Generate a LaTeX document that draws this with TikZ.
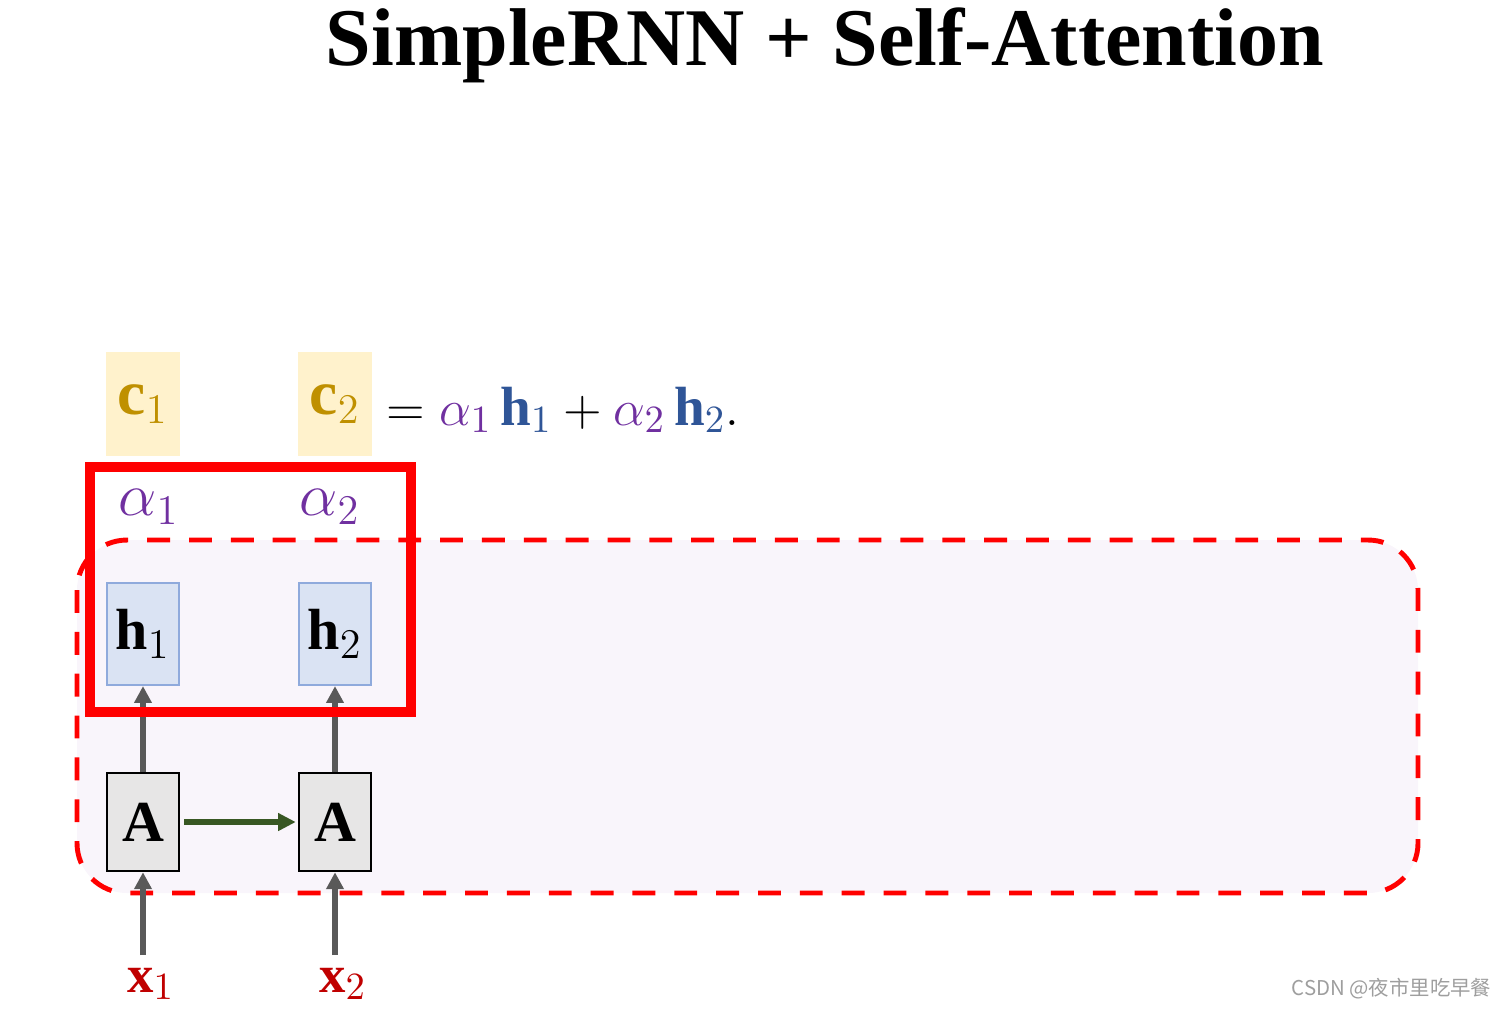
\documentclass[tikz,border=0pt]{standalone}
\usepackage{fontspec}
\setmainfont{Liberation Serif}
\newfontfamily\cjkfont{Noto Sans CJK SC}
\usetikzlibrary{arrows.meta}

\definecolor{ctext}{HTML}{BF9000}
\definecolor{cfill}{HTML}{FFF2CC}
\definecolor{alphacol}{HTML}{7030A0}
\definecolor{hblue}{HTML}{2F5597}
\definecolor{hfill}{HTML}{DAE3F3}
\definecolor{hline}{HTML}{8FAADC}
\definecolor{afill}{HTML}{E7E6E6}
\definecolor{arrowgray}{HTML}{595959}
\definecolor{rnngreen}{HTML}{385723}
\definecolor{xred}{HTML}{C00000}
\definecolor{framefill}{HTML}{F9F5FB}

\begin{document}
\begin{tikzpicture}[x=0.01cm, y=-0.01cm,
    titletext/.style={font=\fontsize{23.3}{28}\selectfont\bfseries, inner sep=0pt},
    cbox/.style={fill=cfill, text=ctext, minimum width=0.73cm, minimum height=1.03cm, inner sep=0pt, font=\fontsize{18}{20}\selectfont},
    hbox/.style={draw=hline, fill=hfill, line width=0.6pt, minimum width=0.72cm, minimum height=1.02cm, inner sep=0pt, font=\fontsize{16.5}{18}\selectfont},
    abox/.style={draw=black, fill=afill, line width=0.7pt, minimum width=0.72cm, minimum height=0.98cm, inner sep=0pt, font=\fontsize{16.5}{18}\selectfont},
    alphalabel/.style={text=alphacol, inner sep=0pt, font=\fontsize{18}{20}\selectfont},
    inlabel/.style={text=xred, inner sep=0pt, font=\fontsize{15}{17}\selectfont},
    eqtext/.style={inner sep=0pt, font=\fontsize{15.7}{18}\selectfont},
    uparrow/.style={draw=arrowgray, line width=1.9pt, -{Triangle[length=4.8pt,width=4.8pt]}},
    recarrow/.style={draw=rnngreen, line width=1.7pt, -{Triangle[length=5pt,width=4.8pt]}},
    rnnframe/.style={draw=red, fill=framefill, line width=1.4pt, dash pattern=on 6.5pt off 5.4pt, rounded corners=0.5cm},
    attnframe/.style={draw=red, line width=3.1pt}]
    \useasboundingbox (0,0) rectangle (1507,1008);

    % Title
    \node[titletext, anchor=base] (title) at (825,65) {SimpleRNN + Self-Attention};

    % SimpleRNN block (dashed)
    \draw[rnnframe] (77,540) rectangle (1418,893);

    % Columns: context vector, weight, state, cell, input
    \foreach \i/\x/\ax in {1/143/118, 2/335/299} {
        \node[cbox] (c\i) at (\x,404) {$\mathbf{c}_\i$};
        \node[alphalabel, anchor=base west] (alpha\i) at (\ax,515) {$\alpha_\i$};
        \node[hbox] (h\i) at (\x,634) {$\mathbf{h}_\i$};
        \node[abox] (A\i) at (\x,822) {$\mathbf{A}$};
        \node[inlabel, anchor=base] (x\i) at (\x+8,992) {$\mathbf{x}_\i$};
        \draw[uparrow] (A\i) -- (h\i);
        \draw[uparrow, shorten <=0.12cm] (x\i.north -| A\i.south) -- (A\i.south);
    }
    \draw[recarrow, shorten <=0.04cm, shorten >=0.02cm] (A1) -- (A2);

    % Attention weights (solid)
    \draw[attnframe] (90,467) rectangle (411,712);

    % Context vector
    \node[eqtext, anchor=base west] (sum) at (386,425)
        {$= \textcolor{alphacol}{\alpha_1}\,\textcolor{hblue}{\mathbf{h}_1} + \textcolor{alphacol}{\alpha_2}\,\textcolor{hblue}{\mathbf{h}_2}.$};

    \node[font=\cjkfont\fontsize{5.8}{7}\selectfont, text=black!38, anchor=east, inner sep=0pt] (mark) at (1492,989) {CSDN @夜市里吃早餐};
\end{tikzpicture}
\end{document}
